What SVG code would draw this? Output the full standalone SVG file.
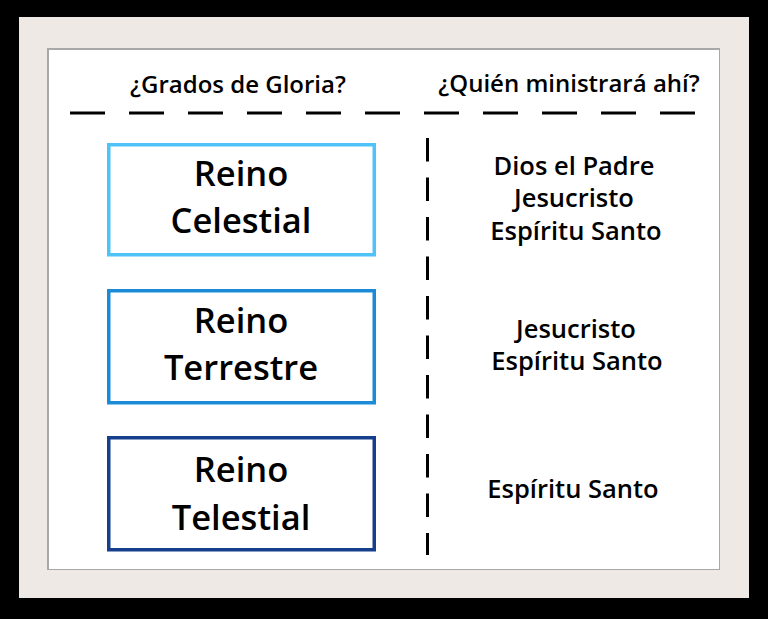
<svg xmlns="http://www.w3.org/2000/svg" width="768" height="619" viewBox="0 0 768 619">
<defs>
<style>
.t{font-family:"Open Sans","Noto Sans",sans-serif;font-weight:600;fill:#000;text-anchor:middle}
.hd{font-size:24px}
.bx{font-size:34.5px}
.rt{font-size:25.5px}
.box{fill:#fff;stroke-width:3.5}
.dash{stroke:#000;stroke-width:3;fill:none}
</style>
<filter id="sh" x="-5%" y="-5%" width="110%" height="110%">
<feGaussianBlur in="SourceAlpha" stdDeviation="1.5"/>
<feOffset dx="1" dy="1" result="b"/>
<feFlood flood-color="#000" flood-opacity="0.5"/>
<feComposite in2="b" operator="in"/>
<feMerge><feMergeNode/><feMergeNode in="SourceGraphic"/></feMerge>
</filter>
</defs>
<rect x="0" y="0" width="768" height="619" fill="#000"/>
<g id="frame">
<rect x="19" y="17" width="730" height="581" fill="#eee9e4" filter="url(#sh)"/>
<rect x="47" y="48" width="673" height="522" fill="#a8a8a8"/>
<rect x="49" y="50" width="670" height="519" fill="#fff"/>
</g>
<g id="headers">
<text class="t hd" x="238" y="93">¿Grados de Gloria?</text>
<text class="t hd" x="569" y="92">¿Quién ministrará ahí?</text>
</g>
<g id="connectors">
<line class="dash" x1="70" y1="113" x2="698" y2="113" stroke-dasharray="35 24"/>
<line class="dash" x1="427.5" y1="138" x2="427.5" y2="555" stroke-dasharray="23.5 16"/>
</g>
<g id="celestial">
<rect class="box" x="108.75" y="144.75" width="265.5" height="110" stroke="#4fc3f7"/>
<text class="t bx" x="241" y="186">Reino</text>
<text class="t bx" x="241" y="233">Celestial</text>
</g>
<g id="terrestre">
<rect class="box" x="108.75" y="290.75" width="265.5" height="112" stroke="#1b8bd8"/>
<text class="t bx" x="241" y="333">Reino</text>
<text class="t bx" x="241" y="380">Terrestre</text>
</g>
<g id="telestial">
<rect class="box" x="108.75" y="437.75" width="265.5" height="112" stroke="#153e8c"/>
<text class="t bx" x="241" y="482">Reino</text>
<text class="t bx" x="241" y="530">Telestial</text>
</g>
<g id="ministers-celestial">
<text class="t rt" x="574" y="175">Dios el Padre</text>
<text class="t rt" x="574" y="207">Jesucristo</text>
<text class="t rt" x="576" y="240">Espíritu Santo</text>
</g>
<g id="ministers-terrestre">
<text class="t rt" x="576" y="338">Jesucristo</text>
<text class="t rt" x="577" y="370">Espíritu Santo</text>
</g>
<g id="ministers-telestial">
<text class="t rt" x="573" y="498">Espíritu Santo</text>
</g>
</svg>
